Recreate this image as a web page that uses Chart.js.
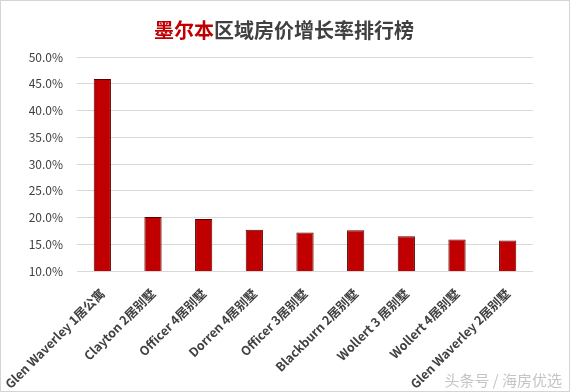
<!DOCTYPE html>
<html>
<head>
<meta charset="utf-8">
<script src="https://cdn.jsdelivr.net/npm/chart.js@4/dist/chart.umd.min.js"></script>
<style>
  html, body { margin: 0; padding: 0; background: #fff; }
  #wrap { width: 570px; height: 392px; position: relative; }
</style>
</head>
<body>
<div id="wrap"><canvas id="growthChart"></canvas></div>
<script>
// 区域名称与增长率 (%)
const suburbs = ['Glen Waverley 1居公寓', 'Clayton 2居别墅', 'Officer 4居别墅', 'Dorren 4居别墅',
                 'Officer 3居别墅', 'Blackburn 2居别墅', 'Wollert 3 居别墅', 'Wollert 4居别墅', 'Glen Waverley 2居别墅'];
const growthRates = [45.9, 20.1, 19.7, 17.7, 17.2, 17.6, 16.5, 15.9, 15.7];
const yTicks = [10, 15, 20, 25, 30, 35, 40, 45, 50];

const cjk = '"Noto Sans CJK SC", "Noto Sans", sans-serif';

// 标题 + 水印 + 外框
const decorPlugin = {
    id: 'decor',
    afterDraw(chart) {
        const ctx = chart.ctx;
        ctx.save();
        ctx.font = 'bold 20px ' + cjk;
        ctx.textBaseline = 'middle';
        const red = '墨尔本', rest = '区域房价增长率排行榜';
        const w1 = ctx.measureText(red).width;
        const w2 = ctx.measureText(rest).width;
        let x = 284 - (w1 + w2) / 2;
        ctx.fillStyle = '#c00000';
        ctx.fillText(red, x, 30);
        ctx.fillStyle = '#404040';
        ctx.fillText(rest, x + w1, 30);

        ctx.font = '15px ' + cjk;
        ctx.fillStyle = '#c4c4c4';
        ctx.textAlign = 'right';
        ctx.fillText('头条号 / 海房优选', 562, 380);

        ctx.strokeStyle = '#d4d4d4';
        ctx.lineWidth = 1;
        ctx.strokeRect(0.5, 0.5, 569, 391);
        ctx.restore();
    }
};

new Chart(document.getElementById('growthChart'), {
    type: 'bar',
    data: {
        labels: suburbs,
        datasets: [{
            data: growthRates,
            backgroundColor: '#c00000',
            borderColor: '#5a0000',
            borderWidth: 1,
            barPercentage: 0.34,
            categoryPercentage: 1
        }]
    },
    options: {
        responsive: true,
        maintainAspectRatio: false,
        animation: false,
        layout: { padding: { top: 57, right: 37, left: 0, bottom: 0 } },
        plugins: {
            legend: { display: false },
            tooltip: { enabled: false }
        },
        scales: {
            x: {
                grid: { display: false },
                border: { display: false },
                ticks: {
                    minRotation: 45,
                    maxRotation: 45,
                    color: '#404040',
                    padding: 7,
                    font: { family: cjk, size: 12.4, weight: 'bold' }
                },
                afterFit(scale) {
                    scale.height = 121;
                    scale.paddingLeft = 0;
                    scale.paddingRight = 0;
                }
            },
            y: {
                min: 10,
                max: 50,
                afterBuildTicks(scale) { scale.ticks = yTicks.map(v => ({ value: v })); },
                grid: { color: '#d9d9d9', drawTicks: false },
                border: { display: false },
                ticks: {
                    padding: 14,
                    color: '#404040',
                    font: { family: cjk, size: 12 },
                    callback: v => v.toFixed(1) + '%'
                },
                afterFit(scale) { scale.width = 77; }
            }
        }
    },
    plugins: [decorPlugin]
});
</script>
</body>
</html>
